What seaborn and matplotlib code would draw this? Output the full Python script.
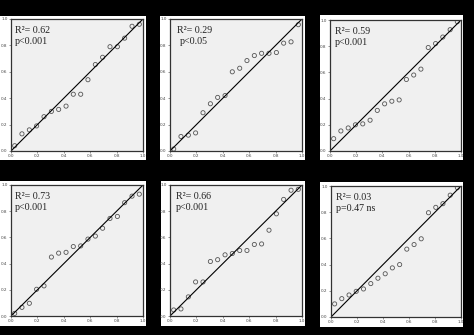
import numpy as np
import pandas as pd
import matplotlib
matplotlib.use("Agg")
import matplotlib.pyplot as plt
import seaborn as sns
from matplotlib.patches import Rectangle

sns.set_theme(style="white")
plt.rcParams['font.family'] = ['DejaVu Sans']

# Expected cumulative probability (x) shared by all panels
expected = [0.028, 0.083, 0.139, 0.194, 0.250, 0.306, 0.361, 0.417, 0.472,
            0.528, 0.583, 0.639, 0.694, 0.750, 0.806, 0.861, 0.917, 0.972]

obs1 = [0.04, 0.13, 0.16, 0.19, 0.26, 0.30, 0.315, 0.34, 0.43,
        0.43, 0.54, 0.655, 0.71, 0.79, 0.79, 0.855, 0.945, 0.96]
obs2 = [0.015, 0.11, 0.12, 0.137, 0.29, 0.358, 0.406, 0.42, 0.60,
        0.627, 0.685, 0.723, 0.74, 0.74, 0.746, 0.817, 0.827, 0.957]
obs3 = [0.094, 0.153, 0.176, 0.20, 0.207, 0.235, 0.31, 0.36, 0.38,
        0.39, 0.546, 0.58, 0.625, 0.79, 0.82, 0.87, 0.926, 0.987]
obs4 = [0.02, 0.066, 0.097, 0.204, 0.23, 0.45, 0.48, 0.486, 0.53,
        0.535, 0.587, 0.61, 0.67, 0.745, 0.76, 0.865, 0.915, 0.93]
obs5 = [0.046, 0.054, 0.146, 0.26, 0.26, 0.416, 0.43, 0.467, 0.477,
        0.50, 0.50, 0.546, 0.55, 0.655, 0.78, 0.89, 0.96, 0.967]
obs6 = [0.10, 0.14, 0.168, 0.196, 0.214, 0.255, 0.296, 0.33, 0.375,
        0.40, 0.518, 0.553, 0.597, 0.796, 0.837, 0.865, 0.93, 0.987]

r2_labels = ["0.62", "0.29", "0.59", "0.73", "0.66", "0.03"]
p_labels = ["p<0.001", "p<0.05", "p<0.001", "p<0.001", "p<0.001", "p=0.47 ns"]
diag = [0.0, 1.0]
tick_vals = [0.0, 0.2, 0.4, 0.6, 0.8, 1.0]
tick_labels = ["0.0", "0.2", "0.4", "0.6", "0.8", "1.0"]

series = [obs1, obs2, obs3, obs4, obs5, obs6]

W, H = 474, 335
fig = plt.figure(figsize=(W / 100, H / 100), dpi=100)
fig.patch.set_facecolor("black")

# pixel boxes: axes (x0, y0, x1, y1) and white background boxes
ax_boxes = [(11, 19, 143, 151), (170, 19, 302, 151), (330, 20, 461, 151),
            (11, 185, 143, 316), (170, 185, 302, 316), (331, 186, 461, 317)]
bg_boxes = [(0, 16, 146, 160), (160, 16, 305, 160), (320, 15, 463, 160),
            (0, 181, 146, 326), (161, 181, 305, 326), (320, 182, 463, 327)]
text_dx = [(4, 4), (7, 10), (5, 5), (4, 4), (6, 6), (5, 5)]

for (bx0, by0, bx1, by1) in bg_boxes:
    fig.patches.append(Rectangle((bx0 / W, 1 - by1 / H), (bx1 - bx0) / W, (by1 - by0) / H,
                                 transform=fig.transFigure, facecolor="white",
                                 edgecolor="none", zorder=-5))

for i, (obs, box) in enumerate(zip(series, ax_boxes)):
    x0, y0, x1, y1 = box
    ax = fig.add_axes([x0 / W, 1 - y1 / H, (x1 - x0) / W, (y1 - y0) / H])
    ax.set_zorder(5)
    ax.set_facecolor("#f0f0f0")
    df = pd.DataFrame({"expected": expected, "observed": obs})
    sns.lineplot(x=diag, y=diag, ax=ax, color="black", lw=0.8)
    sns.scatterplot(data=df, x="expected", y="observed", ax=ax, s=9,
                    facecolor="none", edgecolor="#555555", linewidth=0.6, marker="o")
    ax.set_xlim(0, 1)
    ax.set_ylim(0, 1)
    ax.set_xticks(tick_vals)
    ax.set_yticks(tick_vals)
    ax.set_xticklabels(tick_labels)
    ax.set_yticklabels(tick_labels)
    ax.tick_params(axis="both", labelsize=3, length=1.5, width=0.4, pad=1,
                   colors="#444444", direction="out", bottom=True, left=True)
    ax.set_xlabel("")
    ax.set_ylabel("")
    for sp in ax.spines.values():
        sp.set_color("#333333")
        sp.set_linewidth(0.9)
    dx1, dx2 = text_dx[i]
    w_ax = x1 - x0
    h_ax = y1 - y0
    ax.text(dx1 / w_ax, 1 - 14 / h_ax, "R\u00b2= " + r2_labels[i], transform=ax.transAxes,
            fontsize=7.2, family="Liberation Serif", color="#222222", va="baseline")
    ax.text(dx2 / w_ax, 1 - 25 / h_ax, p_labels[i], transform=ax.transAxes,
            fontsize=7.2, family="Liberation Serif", color="#222222", va="baseline")

fig.savefig("out.png", dpi=100, facecolor="black")
